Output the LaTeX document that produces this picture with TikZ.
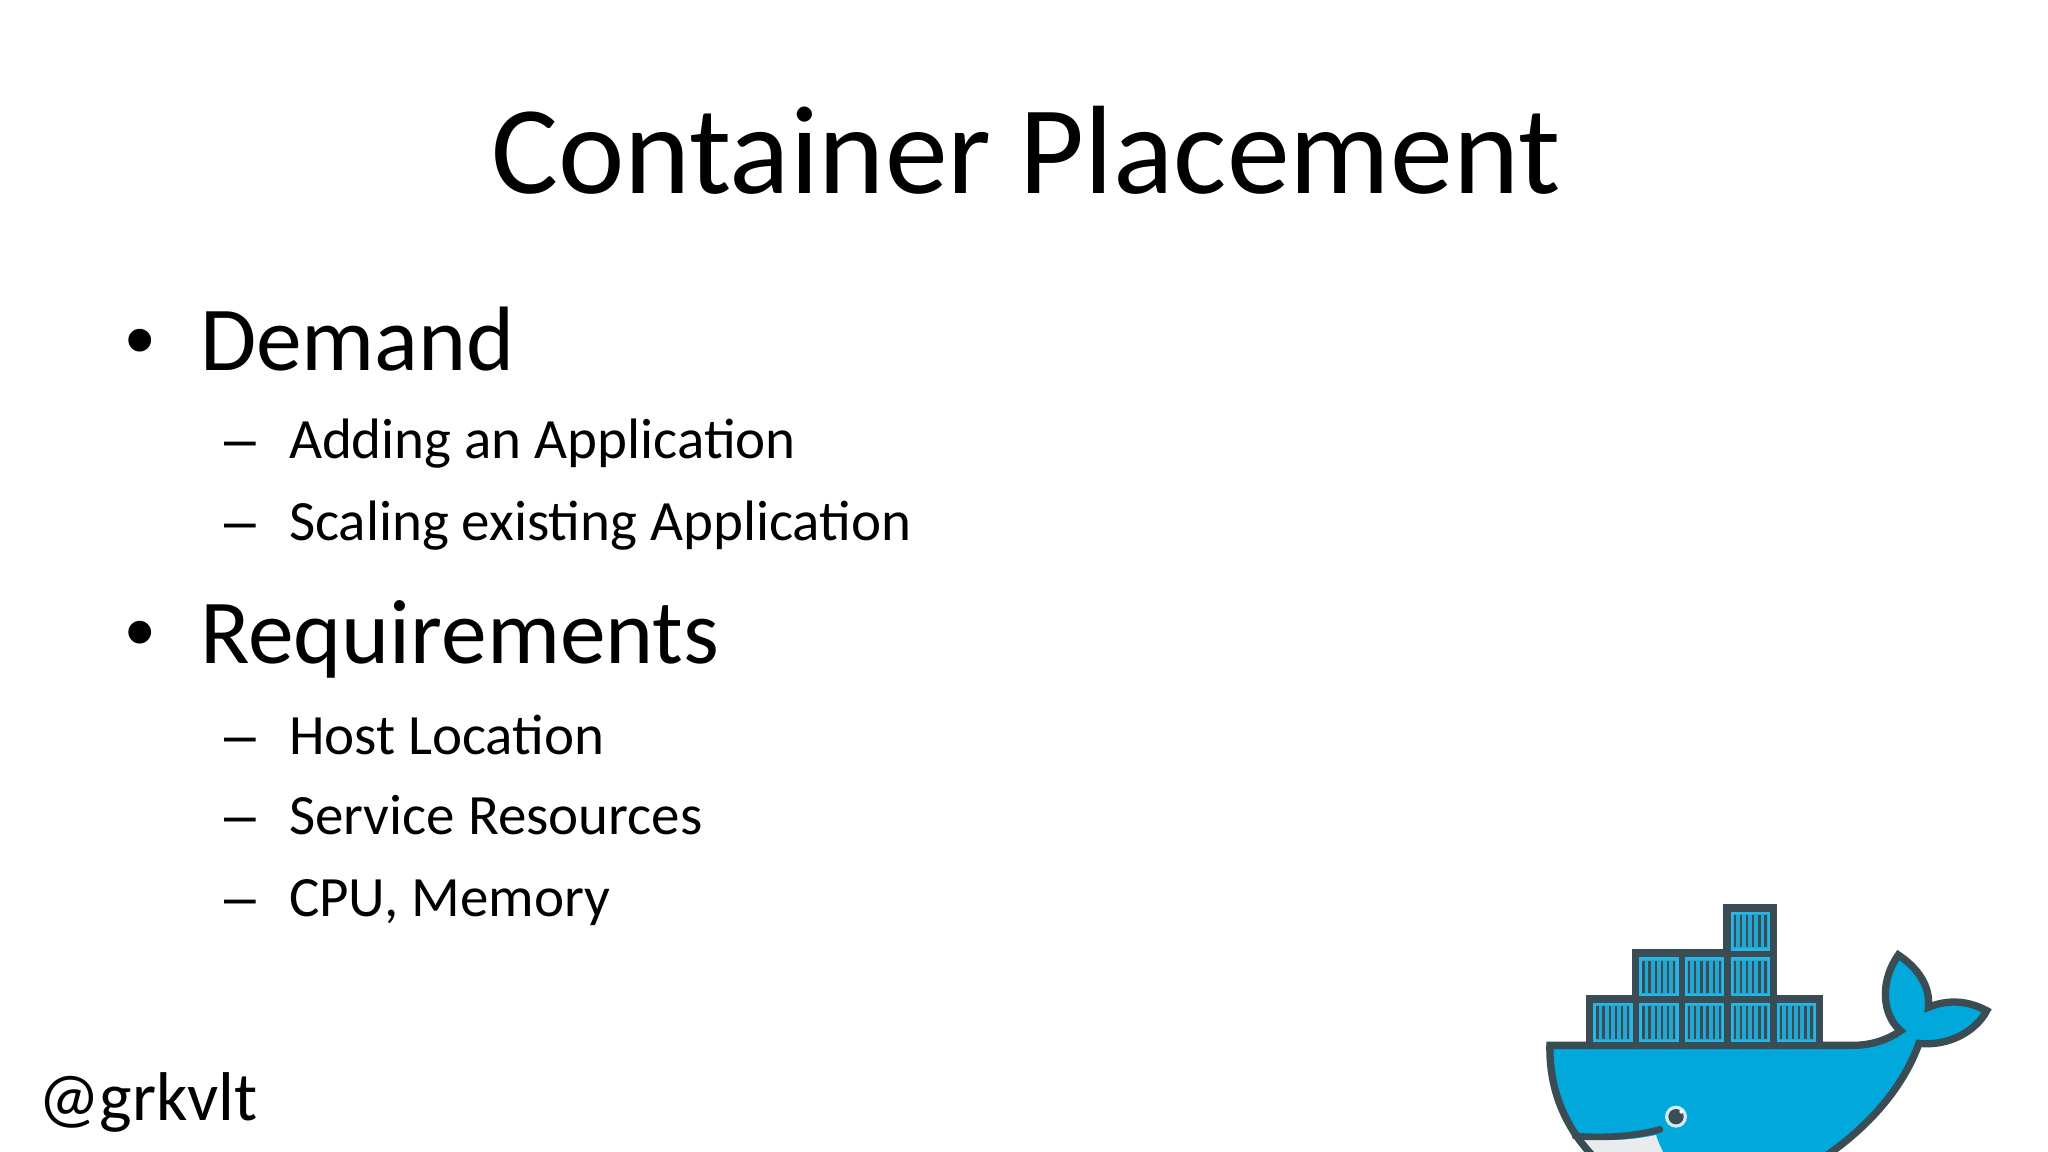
\documentclass[tikz,border=0pt]{standalone}
\usepackage{fontspec}
\setmainfont{Carlito}
\newfontfamily\bulletfont{Liberation Sans}
\definecolor{whaledark}{HTML}{3A4D54}
\definecolor{whaleblue}{HTML}{00A8DC}
\definecolor{cellbright}{HTML}{29B6E6}
\definecolor{cellmid}{HTML}{22A6D2}
\definecolor{bellygrey}{HTML}{E8ECEF}
\definecolor{eyering}{HTML}{D2ECF5}
\newcommand{\szpx}[1]{\fontsize{\fpeval{#1*0.75}}{\fpeval{#1*0.9}}\selectfont}
\tikzset{
  txt/.style={inner sep=0pt,outer sep=0pt,anchor=base west,text=black},
  titletxt/.style={txt,font=\szpx{125.8}},
  mainitem/.style={txt,font=\szpx{91.5}},
  subitem/.style={txt,font=\szpx{57}},
  handle/.style={txt,font=\szpx{69}},
  bulletmark/.style={inner sep=0pt,outer sep=0pt,anchor=base,font=\bulletfont\szpx{84}},
  dashmark/.style={txt,font=\bulletfont\szpx{57}},
  hull/.style={draw=whaledark,line width=5.5pt,line join=miter},
}
\newcommand{\cell}[2]{%
  \fill[cellbright] (#1,#2) rectangle ++(118,117);
  \fill[cellmid] (#1+7,#2+7) rectangle ++(104,103);
  \foreach \b in {9,27,46,64,83,101}{
    \fill[whaledark] (#1+\b,#2+10) rectangle ++(6.5,97);
  }
}
\begin{document}
\begin{tikzpicture}[x=0.75pt,y=-0.75pt]
\useasboundingbox (0,0) rectangle (2048,1152);
\clip (0,0) rectangle (2048,1152);
\fill[white] (0,0) rectangle (2048,1152);

\node[titletxt] (title) at (491,194) {Container Placement};

\node[bulletmark] (b1) at (140,368) {•};
\node[mainitem] (demand) at (200,370) {Demand};
\node[dashmark] (d1) at (224,458) {–};
\node[subitem] (s1) at (289,458) {Adding an Application};
\node[dashmark] (d2) at (224,540) {–};
\node[subitem] (s2) at (289,540) {Scaling existing Application};

\node[bulletmark] (b2) at (140,660) {•};
\node[mainitem] (req) at (200,663) {Requirements};
\node[dashmark] (d3) at (224,754) {–};
\node[subitem] (s3) at (289,754) {Host Location};
\node[dashmark] (d4) at (224,834) {–};
\node[subitem] (s4) at (289,834) {Service Resources};
\node[dashmark] (d5) at (224,916) {–};
\node[subitem] (s5) at (289,916) {CPU, Memory};

\node[handle] (h) at (38,1120) {@grkvlt};

\begin{scope}[shift={(1520,880)},x=0.25pt,y=-0.25pt]
  % hull and tail
  \path[fill=whaleblue] (90,496) -- (1000,496)
     .. controls (1060,496) and (1110,475) .. (1142,452)
     .. controls (1090,410) and (1075,310) .. (1135,225)
     .. controls (1195,265) and (1232,320) .. (1225,382)
     .. controls (1290,355) and (1350,365) .. (1400,392)
     .. controls (1370,450) and (1290,500) .. (1197,490)
     .. controls (1150,620) and (1050,740) .. (900,840)
     -- (230,840) .. controls (130,740) and (80,620) .. (90,496) -- cycle;
  % belly
  \fill[bellygrey] (180,775) .. controls (260,785) and (340,780) .. (408,765)
     .. controls (415,790) and (425,805) .. (435,830) -- (220,830) -- cycle;
  \draw[hull] (90,496) -- (1000,496)
     .. controls (1060,496) and (1110,475) .. (1142,452)
     .. controls (1090,410) and (1075,310) .. (1135,225)
     .. controls (1195,265) and (1232,320) .. (1225,382)
     .. controls (1290,355) and (1350,365) .. (1400,392)
     .. controls (1370,450) and (1290,500) .. (1197,490)
     .. controls (1150,620) and (1050,740) .. (900,840)
     (90,485) .. controls (85,620) and (130,740) .. (230,840);
  % mouth
  \draw[whaledark,line width=5pt,line cap=round] (165,768) .. controls (260,775) and (350,768) .. (420,748);
  % eye
  \fill[eyering] (468,710) circle (33);
  \fill[whaledark] (468,710) circle (23);
  \fill[white] (484,695) circle (6);
  % container stack
  \fill[whaledark] (198,345) rectangle (910,500);
  \fill[whaledark] (335,208) rectangle (772,350);
  \fill[whaledark] (608,72) rectangle (772,215);
  \cell{632}{95}
  \cell{358}{232}\cell{495}{232}\cell{632}{232}
  \cell{220}{369}\cell{358}{369}\cell{495}{369}\cell{632}{369}\cell{770}{369}
\end{scope}
\end{tikzpicture}
\end{document}
